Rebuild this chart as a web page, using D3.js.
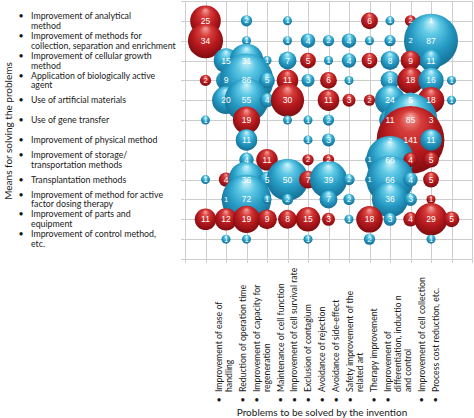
<!DOCTYPE html>
<html>
<head>
<meta charset="utf-8">
<script src="https://cdnjs.cloudflare.com/ajax/libs/d3/7.8.5/d3.min.js"></script>
<style>
  body { margin: 0; background: #fff; }
  svg { display: block; }
  .lbl { font-family: Lato, "Open Sans", sans-serif; fill: #1a1a1a; }
  .val { font-family: "Liberation Sans", Arial, sans-serif; fill: #fff; }
</style>
</head>
<body>
<svg id="chart" width="474" height="418"></svg>
<script>
// means for solving the problems (rows, top to bottom)
var rowLabels = [
    ["Improvement of analytical", "method"],
    ["Improvement of methods for", "collection, separation and enrichment"],
    ["Improvement of cellular growth", "method"],
    ["Application of biologically active", "agent"],
    ["Use of artificial materials"],
    ["Use of gene transfer"],
    ["Improvement of physical method"],
    ["Improvement of storage/", "transportation methods"],
    ["Transplantation methods"],
    ["Improvement of method for active", "factor dosing therapy"],
    ["Improvement of parts and", "equipment"],
    ["Improvement of control method,", "etc."]
];

// problems to be solved (columns, left to right)
var colLabels = [
    ["Improvement of ease of", "handling"],
    ["Reduction of operation time"],
    ["Improvement of capacity for", "regeneration"],
    ["Maintenance of cell function"],
    ["Improvement of cell survival rate"],
    ["Exclusion of contagium"],
    ["Avoidance of rejection"],
    ["Avoidance of side-effect"],
    ["Safety improvement of the", "related art"],
    ["Therapy improvement"],
    ["Improvement of", "differentiation, inductio n", "and control"],
    ["Improvement of cell collection"],
    ["Process cost reduction, etc."]
];

// red bubbles, one array per row (0 = no bubble)
var redValues = [
    [25, 0, 0, 0, 0, 0, 0, 0, 6, 0, 2, 0, 0],
    [34, 0, 0, 0, 0, 0, 0, 0, 0, 0, 0, 0, 0],
    [0, 0, 0, 0, 0, 5, 0, 0, 5, 0, 9, 0, 0],
    [2, 0, 0, 0, 11, 0, 6, 0, 0, 0, 18, 0, 0],
    [0, 0, 0, 0, 30, 0, 11, 3, 2, 0, 0, 18, 0],
    [0, 0, 19, 0, 0, 0, 0, 0, 0, 0, 0, 0, 0],
    [0, 0, 0, 0, 0, 0, 0, 0, 0, 0, 141, 0, 0],
    [0, 0, 0, 11, 0, 2, 2, 0, 0, 0, 4, 5, 0],
    [0, 4, 0, 0, 0, 7, 0, 0, 0, 0, 0, 5, 0],
    [0, 0, 0, 0, 0, 0, 0, 0, 0, 0, 0, 1, 0],
    [11, 12, 19, 9, 8, 15, 3, 0, 18, 0, 4, 29, 5],
    [0, 0, 0, 0, 0, 0, 0, 0, 0, 0, 0, 0, 0]
];

// blue bubbles, one array per row
var blueValues = [
    [0, 0, 2, 0, 1, 0, 0, 0, 0, 1, 0, 1, 0],
    [0, 0, 1, 0, 1, 4, 2, 4, 1, 2, 2, 87, 0],
    [0, 15, 31, 1, 7, 0, 1, 4, 0, 8, 0, 11, 0],
    [0, 9, 86, 5, 0, 3, 0, 1, 0, 8, 0, 16, 1],
    [0, 20, 55, 4, 0, 0, 0, 0, 0, 24, 5, 0, 1],
    [1, 0, 0, 0, 1, 1, 2, 0, 0, 11, 85, 3, 0],
    [0, 0, 11, 0, 0, 1, 3, 0, 0, 2, 0, 11, 0],
    [0, 0, 4, 0, 0, 0, 0, 0, 1, 66, 0, 0, 0],
    [1, 0, 36, 5, 50, 0, 39, 2, 1, 66, 4, 0, 0],
    [0, 1, 72, 1, 2, 0, 7, 2, 0, 36, 3, 0, 0],
    [0, 0, 0, 0, 0, 0, 0, 1, 0, 3, 0, 0, 0],
    [0, 1, 1, 0, 0, 1, 0, 0, 2, 0, 0, 1, 0]
];

var svg = d3.select("#chart");

var x = d3.scaleLinear().domain([-1, 13]).range([185, 472]);
var y = d3.scaleLinear().domain([-1, 12]).range([1, 259]);
var r = d3.scalePow().exponent(0.5).domain([0, 141]).range([1.8, 33.9]);

// gradients for the shaded balls
var defs = svg.append("defs");
var shades = {
    red: ["#f4a3a0", "#d63d3a", "#b61a1e", "#8a0e12", "#761014"],
    blue: ["#d2f4fb", "#5fc9e6", "#269bc4", "#18779e", "#1a6a8c"]
};
Object.keys(shades).forEach(function(k) {
    var g = defs.append("radialGradient")
        .attr("id", "ball-" + k)
        .attr("cx", "50%").attr("cy", "45%").attr("r", "58%")
        .attr("fx", "50%").attr("fy", "14%");
    [0, 0.28, 0.62, 0.9, 1].forEach(function(o, i) {
        g.append("stop").attr("offset", o).attr("stop-color", shades[k][i]);
    });
});

// grid
var grid = svg.append("g").attr("stroke", "#cdcdcd").attr("stroke-width", 1);
grid.selectAll("line.v")
    .data(d3.range(-1, 14))
    .enter().append("line")
        .attr("x1", function(d) { return Math.round(x(d)) + 0.5; })
        .attr("x2", function(d) { return Math.round(x(d)) + 0.5; })
        .attr("y1", y(-1))
        .attr("y2", y(12) + 4);
grid.selectAll("line.h")
    .data(d3.range(-1, 13))
    .enter().append("line")
        .attr("x1", x(-1) - 4)
        .attr("x2", x(13))
        .attr("y1", function(d) { return Math.round(y(d)) + 0.5; })
        .attr("y2", function(d) { return Math.round(y(d)) + 0.5; });

// bubbles in data order, row by row
var points = [];
for (var i = 0; i < redValues.length; i++) {
    for (var j = 0; j < colLabels.length; j++) {
        if (redValues[i][j]) points.push({row: i, col: j, value: redValues[i][j], color: "red"});
        if (blueValues[i][j]) points.push({row: i, col: j, value: blueValues[i][j], color: "blue"});
    }
}

svg.append("g")
    .selectAll("circle")
    .data(points)
    .enter().append("circle")
        .attr("cx", function(d) { return x(d.col); })
        .attr("cy", function(d) { return y(d.row); })
        .attr("r", function(d) { return r(d.value); })
        .attr("fill", function(d) { return "url(#ball-" + d.color + ")"; });

svg.append("g")
    .selectAll("text")
    .data(points)
    .enter().append("text")
        .attr("class", "val")
        .attr("x", function(d) { return x(d.col); })
        .attr("y", function(d) { return y(d.row); })
        .attr("dy", "0.35em")
        .attr("text-anchor", "middle")
        .style("font-size", function(d) { return d.value < 3 ? "7.5px" : "8.5px"; })
        .text(function(d) { return d.value; });

// row labels on the left
var lineH = 9.8;
var rows = svg.append("g").attr("class", "lbl").style("font-size", "8.8px");
rowLabels.forEach(function(lines, i) {
    var top = y(i) - (lines.length - 1) * lineH / 2;
    rows.append("text")
        .attr("x", 21).attr("y", top).attr("dy", "0.35em")
        .attr("text-anchor", "middle")
        .text("\u2022");
    var t = rows.append("text");
    lines.forEach(function(s, k) {
        t.append("tspan")
            .attr("x", 31).attr("y", top + k * lineH).attr("dy", "0.35em")
            .text(s);
    });
});

// column labels, rotated and packed side by side
var colStart = x(0) + 13.5, colEnd = x(12) - 16;
var extraLines = d3.sum(colLabels, function(l) { return l.length - 1; });
var gap = (colEnd - colStart - extraLines * lineH) / (colLabels.length - 1);
var cols = svg.append("g").attr("class", "lbl").style("font-size", "8.7px");
var px = colStart;
colLabels.forEach(function(lines) {
    cols.append("text")
        .attr("x", px).attr("y", 399.5).attr("dy", "0.35em")
        .attr("text-anchor", "middle")
        .text("\u2022");
    var t = cols.append("text")
        .attr("transform", "translate(" + px + ",392) rotate(-90)");
    lines.forEach(function(s, k) {
        t.append("tspan").attr("x", 0).attr("y", k * lineH).attr("dy", "0.35em").text(s);
    });
    px += (lines.length - 1) * lineH + gap;
});

// axis titles
svg.append("text")
    .attr("class", "lbl")
    .attr("x", 322).attr("y", 415.5)
    .attr("text-anchor", "middle")
    .style("font-size", "10px")
    .text("Problems to be solved by the invention");

svg.append("text")
    .attr("class", "lbl")
    .attr("transform", "translate(8,131) rotate(-90)")
    .attr("dy", "0.35em")
    .attr("text-anchor", "middle")
    .style("font-size", "10px")
    .text("Means for solving the problems");
</script>
</body>
</html>
